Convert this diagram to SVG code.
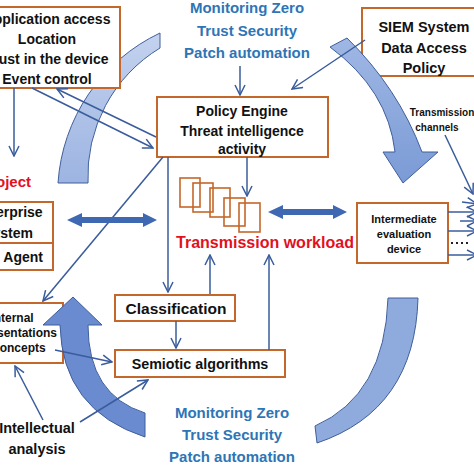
<svg xmlns="http://www.w3.org/2000/svg" width="474" height="474" viewBox="0 0 474 474">
<style>
.box{fill:#fff;stroke:#C4672A;stroke-width:2}
.sm{fill:none;stroke:#C4672A;stroke-width:1.6}
.t{font-family:"Liberation Sans",Arial,sans-serif;font-weight:bold;fill:#111;text-anchor:middle}
.blue{fill:#2E75B6}
.red{fill:#E3101E}
.ln{fill:none;stroke:#3A5C9C;stroke-width:1.5}
.big{stroke:#3F5F9A;stroke-width:1}
.dbl{fill:#3F68B2}
</style>
<defs>
<marker id="ah" viewBox="0 0 12 12" markerWidth="12" markerHeight="12" refX="11" refY="6" orient="auto" markerUnits="userSpaceOnUse">
<path d="M1,1 L11,6 L1,11" fill="none" stroke="#3A5C9C" stroke-width="1.5"/>
</marker>
<linearGradient id="g1" x1="0" y1="0" x2="0" y2="1">
<stop offset="0" stop-color="#C3D2EE"/><stop offset="1" stop-color="#9DB4E2"/>
</linearGradient>
<linearGradient id="g2" x1="0" y1="0" x2="0" y2="1">
<stop offset="0" stop-color="#9FB7E4"/><stop offset="1" stop-color="#7B9BD6"/>
</linearGradient>
</defs>

<g id="arc-back">
<path class="big" fill="url(#g1)" d="M160,33 A179,179 0 0 0 58,183 L88,183 A150,150 0 0 1 160,48 Z"/>
</g>

<g id="n-access">
<rect class="box" x="-30" y="7" width="150" height="81"/>
<text class="t" font-size="14" x="47" y="24">Application access</text>
<text class="t" font-size="14" x="47" y="44">Location</text>
<text class="t" font-size="14" x="47" y="64">Trust in the device</text>
<text class="t" font-size="14" x="47" y="84">Event control</text>
</g>

<g id="n-monitor-top">
<text class="t blue" font-size="15" x="247" y="13">Monitoring Zero</text>
<text class="t blue" font-size="15" x="247" y="36">Trust Security</text>
<text class="t blue" font-size="15" x="247" y="58">Patch automation</text>
</g>

<g id="n-siem">
<rect class="box" x="362" y="8" width="130" height="68"/>
<text class="t" font-size="14.5" x="424" y="32">SIEM System</text>
<text class="t" font-size="14.5" x="424" y="53">Data Access</text>
<text class="t" font-size="14.5" x="424" y="73">Policy</text>
</g>

<g id="n-policy">
<rect class="box" x="157" y="97" width="171" height="60"/>
<text class="t" font-size="14" x="242" y="116">Policy Engine</text>
<text class="t" font-size="14" x="242" y="136">Threat intelligence</text>
<text class="t" font-size="14" x="242" y="154">activity</text>
</g>

<g id="n-channels">
<text class="t" font-size="10" font-weight="normal" x="442" y="116">Transmission</text>
<text class="t" font-size="10" font-weight="normal" x="437" y="131">channels</text>
</g>

<g id="n-object">
<text class="t red" font-size="15" x="31" y="187" style="text-anchor:end">Project</text>
</g>

<g id="n-enterprise">
<rect class="box" x="-30" y="202" width="83" height="41"/>
<text class="t" font-size="14" x="8" y="217">Enterprise</text>
<text class="t" font-size="14" x="8" y="238">System</text>
<rect class="box" x="-30" y="243" width="83" height="27"/>
<text class="t" font-size="14" x="43" y="262" style="text-anchor:end">Agent</text>
</g>

<g id="n-workload">
<rect class="sm" x="180" y="178" width="20" height="29"/>
<rect class="sm" x="193" y="183" width="20" height="29"/>
<rect class="sm" x="210" y="188" width="20" height="29"/>
<rect class="sm" x="224" y="198" width="21" height="28"/>
<rect class="sm" x="239" y="203" width="21" height="29"/>
<text class="t red" font-size="16" x="265" y="248">Transmission workload</text>
</g>

<g id="n-intermediate">
<rect class="box" x="357" y="203" width="91" height="60"/>
<text class="t" font-size="11" x="404" y="223">Intermediate</text>
<text class="t" font-size="11" x="404" y="238">evaluation</text>
<text class="t" font-size="11" x="404" y="253">device</text>
</g>

<g id="n-classification">
<rect class="box" x="115" y="295" width="120" height="26"/>
<text class="t" font-size="15.5" x="176" y="314">Classification</text>
</g>

<g id="n-semiotic">
<rect class="box" x="115" y="350" width="170" height="27"/>
<text class="t" font-size="14.3" x="200" y="369">Semiotic algorithms</text>
</g>

<g id="n-internal">
<rect class="box" x="-40" y="303" width="103" height="60"/>
<text class="t" font-size="12" font-weight="600" x="12" y="322">Internal</text>
<text class="t" font-size="12" font-weight="600" x="12" y="337">representations</text>
<text class="t" font-size="12" font-weight="600" x="12" y="352">of concepts</text>
</g>

<g id="n-intellectual">
<text class="t" font-size="14.5" x="37" y="433">Intellectual</text>
<text class="t" font-size="14.5" x="37" y="454">analysis</text>
</g>

<g id="n-monitor-bottom">
<text class="t blue" font-size="15" x="232" y="418">Monitoring Zero</text>
<text class="t blue" font-size="15" x="232" y="440">Trust Security</text>
<text class="t blue" font-size="15" x="232" y="462">Patch automation</text>
</g>

<g id="arcs">
<path class="big" fill="url(#g2)" d="M330,47 Q388,90 395,152 L383,152 L403,183 L438,152 L422,152 Q398,88 347,38 Z"/>
<path class="big" fill="#8FAADD" d="M388,298 Q385,395 315,426 L317,443 Q415,410 418,298 Z"/>
<path class="big" fill="#6A8BD0" d="M73,297 L102,325 L88,325 Q88,395 145,413 L145,437 Q62,410 60,325 L43,325 Z"/>
</g>

<g id="connectors">
<line class="ln" x1="14" y1="88" x2="14" y2="156" marker-end="url(#ah)"/>
<line class="ln" x1="32" y1="88" x2="153" y2="148" marker-end="url(#ah)"/>
<line class="ln" x1="156" y1="137" x2="57" y2="89" marker-end="url(#ah)"/>
<line class="ln" x1="240" y1="66" x2="240" y2="95" marker-end="url(#ah)"/>
<line class="ln" x1="365" y1="40" x2="292" y2="89" marker-end="url(#ah)"/>
<line class="ln" x1="163" y1="157" x2="43" y2="301" marker-end="url(#ah)"/>
<line class="ln" x1="168" y1="157" x2="168" y2="292" marker-end="url(#ah)"/>
<line class="ln" x1="247" y1="157" x2="247" y2="196" marker-end="url(#ah)"/>
<line class="ln" x1="210" y1="294" x2="210" y2="255" marker-end="url(#ah)"/>
<line class="ln" x1="269" y1="350" x2="269" y2="255" marker-end="url(#ah)"/>
<line class="ln" x1="176" y1="321" x2="176" y2="348" marker-end="url(#ah)"/>
<line class="ln" x1="55" y1="350" x2="112" y2="362" marker-end="url(#ah)"/>
<line class="ln" x1="43" y1="420" x2="15" y2="366" marker-end="url(#ah)"/>
<line class="ln" x1="80" y1="422" x2="148" y2="380" marker-end="url(#ah)"/>
<line class="ln" x1="445" y1="135" x2="473" y2="194" marker-end="url(#ah)"/>
<line class="ln" x1="448" y1="212" x2="477" y2="212" marker-end="url(#ah)"/>
<line class="ln" x1="448" y1="231" x2="477" y2="231" marker-end="url(#ah)"/>
<line class="ln" x1="448" y1="255" x2="477" y2="255" marker-end="url(#ah)"/>
<line class="ln" x1="460" y1="221" x2="477" y2="221" marker-end="url(#ah)"/>
<line class="ln" x1="462" y1="202" x2="477" y2="204" marker-end="url(#ah)"/>
<path d="M451,243 h2 M456,243 h2 M461,243 h2 M466,243 h2" stroke="#222" stroke-width="2.2"/>
<path class="dbl" d="M67,220 L82,213 L82,217 L143,217 L143,213 L157,220 L143,227 L143,223 L82,223 L82,227 Z"/>
<path class="dbl" d="M268,212 L283,205 L283,209 L333,209 L333,205 L347,212 L333,219 L333,215 L283,215 L283,219 Z"/>
</g>
</svg>
